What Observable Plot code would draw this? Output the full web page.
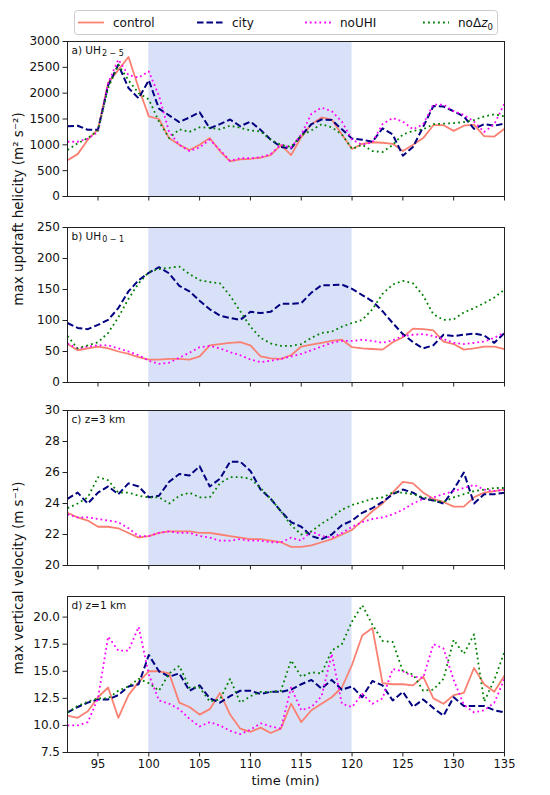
<!DOCTYPE html>
<html><head><meta charset="utf-8">
<script src="https://cdn.jsdelivr.net/npm/d3@7"></script>
<script src="https://cdn.jsdelivr.net/npm/@observablehq/plot@0.6"></script>
<style>
body{margin:0;background:#fff;font-family:"DejaVu Sans",sans-serif;}
#wrap{position:relative;width:550px;height:795px;overflow:hidden;background:#fff;}
#wrap svg.panel{position:absolute;left:0;}
.ylab{position:absolute;font-size:13.5px;white-space:nowrap;color:#111;transform:translate(-50%,-50%) rotate(-90deg);}
#legend{position:absolute;left:74px;top:10px;}
#xlab{position:absolute;left:0;top:760px;}
</style></head><body><div id="wrap"></div>
<script>
const time = [92,93,94,95,96,97,98,99,100,101,102,103,104,105,106,107,108,109,110,111,112,113,114,115,116,117,118,119,120,121,122,123,124,125,126,127,128,129,130,131,132,133,134,135];
const seriesNames = ["control","city","noUHI","noΔz0"];
const seriesColors = ["#FA8072","#000080","#FF00FF","#008000"];
const seriesDash = [null,"6.5,3","1.8,3","1.8,3.2"];
const shadeRange = [100,120];
const xTicks = [95,100,105,110,115,120,125,130,135];

// a) UH 2-5
const uh25Control = [700,820,1100,1300,2200,2450,2700,2100,1550,1500,1130,1000,900,1000,1130,880,680,720,730,750,800,1000,800,1150,1400,1530,1490,1200,920,1020,1050,1040,1020,880,1000,1130,1380,1380,1270,1370,1390,1170,1160,1310];
const uh25City = [1360,1370,1290,1290,2150,2550,2100,1900,2250,1700,1570,1440,1530,1630,1320,1400,1490,1360,1450,1290,1100,960,930,1180,1400,1490,1480,1300,1120,1100,1060,1320,1200,790,960,1350,1750,1740,1650,1550,1310,1400,1370,1410];
const uh25NoUHI = [1060,1060,1120,1250,2200,2650,2350,2300,2420,1950,1250,1000,880,950,1100,900,690,740,740,760,820,1000,950,1200,1600,1720,1650,1450,1100,1000,1050,1400,1520,1450,1300,1400,1780,1780,1650,1580,1450,1250,1400,1800];
const uh25NoDz0 = [900,1030,1130,1280,2100,2550,2250,2000,1880,1450,1130,1300,1250,1340,1330,1300,1370,1330,1280,1260,1100,1000,960,1180,1280,1400,1340,1200,920,1000,880,860,1000,1200,1270,1300,1400,1410,1420,1440,1480,1550,1590,1550];

// b) UH 0-1
const uh01Control = [62,52,55,58,55,50,46,41,37,37,38,38,37,42,60,62,64,65,60,42,39,38,44,58,61,64,67,69,57,55,54,53,65,73,87,86,84,66,62,53,55,58,58,54];
const uh01City = [96,88,86,93,101,120,147,165,177,186,176,156,147,132,118,108,104,101,114,112,114,127,127,128,145,157,157,158,151,141,131,115,96,78,65,55,60,77,75,77,79,76,64,80];
const uh01NoUHI = [63,55,58,60,60,55,50,44,35,30,32,40,48,57,59,55,49,44,37,33,35,38,42,46,52,58,64,67,67,69,67,64,68,75,77,78,75,70,64,62,64,66,72,81];
const uh01NoDz0 = [75,55,60,65,80,105,135,160,178,183,185,187,175,165,162,160,140,115,90,72,63,59,59,62,72,80,82,90,96,101,118,143,158,164,160,140,110,101,102,113,120,128,137,150];

// c) w at z=3 km
const w3Control = [23.4,23.1,22.9,22.5,22.5,22.4,22.1,21.8,21.9,22.1,22.2,22.2,22.2,22.1,22.1,22.0,21.9,21.8,21.7,21.7,21.6,21.5,21.2,21.2,21.3,21.5,21.7,22.0,22.3,22.9,23.5,24.0,24.7,25.4,25.3,24.7,24.3,24.1,23.8,23.8,24.4,24.7,24.8,24.9];
const w3City = [24.3,24.7,24.0,24.7,25.1,24.6,25.3,25.1,24.4,24.5,25.4,25.9,25.8,26.4,25.1,25.6,26.7,26.7,26.1,24.9,24.3,23.5,22.8,22.5,21.9,21.7,22.0,22.6,22.9,23.4,23.7,24.1,24.6,24.9,24.7,24.3,24.2,24.0,24.9,26.0,24.0,24.6,24.6,24.7];
const w3NoUHI = [23.3,23.1,23.1,23.0,22.9,22.8,22.4,21.9,21.9,22.1,22.2,22.1,22.1,21.9,21.8,21.6,21.6,21.7,21.6,21.6,21.5,21.5,21.8,21.6,22.2,21.9,21.8,22.1,22.5,22.8,23.0,23.1,23.3,23.6,24.0,24.3,24.4,24.6,24.8,25.0,25.2,24.9,24.8,24.9];
const w3NoDz0 = [23.7,24.0,24.4,25.7,25.5,24.7,24.7,24.5,24.4,24.4,24.0,24.5,24.7,24.4,24.4,25.3,25.7,25.7,25.6,25.0,24.3,23.5,22.6,22.0,22.2,22.7,23.1,23.6,23.9,24.1,24.3,24.4,24.7,24.7,24.6,24.4,24.2,24.1,24.4,24.6,24.8,24.9,25.0,25.0];

// d) w at z=1 km
const w1Control = [10.9,10.7,11.3,12.6,13.5,10.7,12.8,14.0,15.0,15.0,14.8,12.1,11.7,11.0,11.5,13.0,11.0,9.7,9.4,9.8,9.3,9.7,12.0,10.3,11.4,12.0,12.6,13.5,15.6,18.3,19.0,13.9,13.8,13.8,13.7,14.5,12.5,12.0,12.8,13.0,15.3,13.8,13.1,14.6];
const w1City = [11.2,11.7,12.1,12.4,12.4,12.8,13.6,13.8,16.5,15.0,14.5,14.8,13.2,13.7,12.5,12.1,12.7,13.2,13.2,12.9,13.1,13.1,13.3,13.8,14.2,13.4,14.2,13.3,13.6,12.6,14.1,13.7,12.3,13.1,11.7,12.4,11.6,10.9,12.6,11.8,11.8,11.8,11.4,11.2];
const w1NoUHI = [10.0,10.0,10.3,12.5,18.2,16.9,16.9,19.1,14.7,12.3,12.0,11.5,10.6,9.9,10.3,10.0,9.5,9.2,9.6,10.2,9.9,9.7,13.5,11.4,11.7,12.7,16.6,12.0,11.7,12.9,12.0,12.5,15.2,15.0,14.5,14.4,17.5,17.1,14.2,11.9,11.2,11.4,12.1,14.3];
const w1NoDz0 = [11.2,11.8,12.2,12.5,12.5,13.2,13.6,14.3,13.9,13.2,14.8,15.5,13.5,13.5,12.2,12.4,14.3,12.1,12.7,13.1,13.1,13.2,16.0,14.5,14.9,14.8,16.9,17.5,19.6,21.1,19.3,17.8,17.7,15.0,14.7,13.2,13.3,14.3,17.9,16.6,18.4,12.2,14.2,16.8];

const panelLabelMain = ["a) UH","b) UH","c) z=3 km","d) z=1 km"];
const panelLabelSub = ["2 − 5","0 − 1",null,null];
const yDomains = [[0,3000],[0,250],[20,30],[7.5,21.9]];
const yTicks = [[0,500,1000,1500,2000,2500,3000],[0,50,100,150,200,250],[20,22,24,26,28,30],[7.5,10,12.5,15,17.5,20]];
const yLabels = ["max updraft helicity (m² s⁻²)","max vertical velocity (m s⁻¹)"];
const xLabel = "time (min)";

const panelData = [
  [uh25Control,uh25City,uh25NoUHI,uh25NoDz0],
  [uh01Control,uh01City,uh01NoUHI,uh01NoDz0],
  [w3Control,w3City,w3NoUHI,w3NoDz0],
  [w1Control,w1City,w1NoUHI,w1NoDz0]
];

// layout (pixel frame of each panel)
const frames = [[41,196],[227,382],[410,565],[596,752]];
const wrap = document.getElementById("wrap");

panelData.forEach((series, p) => {
  const last = p === panelData.length - 1;
  const mt = 10, mb = last ? 24 : 20;
  const [ft, fb] = frames[p];
  const h = fb - ft;
  const marks = [
    Plot.rect([shadeRange], {x1: d => d[0], x2: d => d[1], y1: yDomains[p][0], y2: yDomains[p][1], fill: "royalblue", fillOpacity: 0.2}),
  ];
  series.forEach((arr, i) => {
    const rows = time.map((t, j) => ({t, v: arr[j]}));
    marks.push(Plot.line(rows, {x: "t", y: "v", stroke: seriesColors[i], strokeWidth: i === 1 ? 2 : 1.8,
      strokeDasharray: seriesDash[i] || undefined, strokeLinecap: "butt", strokeLinejoin: "round"}));
  });
  marks.push(
    Plot.axisY({ticks: yTicks[p], tickFormat: p === 3 ? d3.format(".1f") : d => String(d), tickSize: 4.5, tickPadding: 3, fontSize: 12, label: null, stroke: "#222"}),
    Plot.axisX({ticks: xTicks, tickFormat: last ? d => String(d) : () => "", tickSize: 4.5, tickPadding: 3, fontSize: 11.5, label: null, stroke: "#222"}),
    Plot.frame({stroke: "#222", strokeWidth: 1}),
    Plot.text([panelLabelMain[p]], {frameAnchor: "top-left", text: d => d, dx: 4, dy: 5, fontSize: 10.5, fill: "#111"})
  );
  const svg = Plot.plot({
    width: 550, height: mt + h + mb,
    marginLeft: 67, marginRight: 46, marginTop: mt, marginBottom: mb,
    style: {fontFamily: "DejaVu Sans", fontSize: "12px", color: "#111", background: "transparent", overflow: "visible"},
    x: {domain: [92, 135]},
    y: {domain: yDomains[p]},
    marks
  });
  svg.classList.add("panel");
  svg.style.top = (ft - mt) + "px";
  wrap.appendChild(svg);
  if (panelLabelSub[p]) {
    d3.select(svg).selectAll("g[aria-label='text'] text").each(function() {
      d3.select(this).append("tspan").attr("font-size", "8px").attr("dy", "0.3em").attr("dx", 1).text(panelLabelSub[p]);
    });
  }
});

// y labels spanning two panels
const yLabelCenters = [209, 578];
yLabels.forEach((t, i) => {
  const div = document.createElement("div");
  div.className = "ylab";
  div.textContent = t;
  div.style.left = "18px";
  div.style.top = yLabelCenters[i] + "px";
  wrap.appendChild(div);
});

// x label (shared)
const xs = d3.select(wrap).append("svg").attr("id", "xlab").attr("width", 550).attr("height", 35);
xs.append("text").attr("x", 285.5).attr("y", 25).attr("text-anchor", "middle")
  .attr("font-family", "DejaVu Sans").attr("font-size", "13px").attr("fill", "#111").text(xLabel);

// legend
const legW = 423, legH = 24;
const sampleX = [4, 123, 231, 349];
const leg = d3.select(wrap).append("svg").attr("id", "legend").attr("width", legW + 2).attr("height", legH + 2)
  .style("font-family", "DejaVu Sans").style("font-size", "12px");
leg.append("rect").attr("x", 0.5).attr("y", 0.5).attr("width", legW).attr("height", legH).attr("rx", 3)
  .attr("fill", "#fff").attr("stroke", "#ccc");
seriesNames.forEach((name, i) => {
  const cy = 12.5;
  leg.append("line").attr("x1", sampleX[i]).attr("x2", sampleX[i] + 26).attr("y1", cy).attr("y2", cy)
    .attr("stroke", seriesColors[i]).attr("stroke-width", i === 1 ? 2 : 1.8)
    .attr("stroke-dasharray", seriesDash[i]);
  const tx = leg.append("text").attr("x", sampleX[i] + 35).attr("y", cy + 4.3).attr("fill", "#111");
  if (name === "noΔz0") {
    tx.append("tspan").text("noΔ");
    tx.append("tspan").attr("font-style", "italic").text("z");
    tx.append("tspan").attr("font-size", "8.5px").attr("dy", 3).text("0");
  } else {
    tx.text(name);
  }
});
</script></body></html>
